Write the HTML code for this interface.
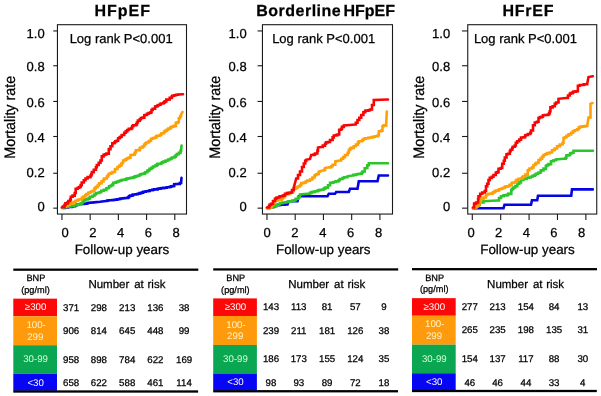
<!DOCTYPE html>
<html lang="en"><head><meta charset="utf-8"><title>Mortality rate by BNP level</title>
<style>html,body{margin:0;padding:0;background:#fff}body{width:601px;height:396px;overflow:hidden}svg{display:block;filter:blur(0.35px)}text{text-rendering:geometricPrecision;stroke:#000;stroke-width:0.25px;font-family:"Liberation Sans",Arial,Helvetica,sans-serif;fill:#000}</style>
</head><body>
<svg width="601" height="396" viewBox="0 0 601 396">
<rect width="601" height="396" fill="#fff"/>
<g>
<text x="94.6" y="16.1" font-size="16" font-weight="bold" letter-spacing="0.95">HFpEF</text>
<polyline points="62.0,208.0 63.8,208.0 63.8,207.9 65.1,207.9 65.1,207.4 68.0,207.4 68.0,207.0 69.0,207.0 69.0,206.9 71.7,206.9 71.7,206.8 72.6,206.8 72.6,206.3 75.0,206.3 75.0,205.5 76.3,205.5 76.3,204.8 77.9,204.8 77.9,204.3 81.0,204.3 81.0,204.0 83.6,204.0 83.6,203.9 84.1,203.9 84.1,203.8 86.4,203.8 86.4,203.5 87.5,203.5 87.5,203.0 94.0,202.4 100.0,201.8 106.0,201.0 107.0,201.0 107.0,200.5 108.9,200.5 108.9,200.3 111.1,200.3 111.1,200.2 112.5,200.2 112.5,200.0 114.5,200.0 114.5,199.8 116.0,199.8 116.0,199.6 117.2,199.6 117.2,199.3 119.0,199.3 119.0,199.0 120.4,199.0 120.4,198.5 122.8,198.5 122.8,198.2 125.0,198.2 125.0,198.0 128.1,198.0 128.1,197.3 129.0,197.3 129.0,196.2 130.1,196.2 130.1,195.6 132.3,195.6 132.3,195.1 133.1,195.1 133.1,194.5 135.8,194.5 135.8,194.2 137.7,194.2 137.7,193.7 139.5,193.7 139.5,193.1 141.2,193.1 141.2,192.8 142.6,192.8 142.6,192.4 143.3,192.4 143.3,191.8 145.7,191.8 145.7,191.2 148.0,191.2 148.0,191.0 149.7,191.0 149.7,190.3 152.3,190.3 152.3,189.9 153.0,189.9 153.0,189.7 154.0,189.7 154.0,189.4 157.6,189.4 157.6,188.7 158.9,188.7 158.9,188.6 160.6,188.6 160.6,188.2 161.8,188.2 161.8,188.1 163.5,188.1 163.5,187.9 165.0,187.9 165.0,187.7 166.7,187.7 166.7,187.3 169.4,187.3 169.4,187.0 170.3,187.0 170.3,186.7 171.2,186.7 171.2,186.2 173.1,186.2 173.1,186.0 174.2,186.0 174.2,184.2 178.8,183.9 179.8,183.9 179.8,183.0 181.1,183.0 181.1,182.4 181.5,177.9" fill="none" stroke="#0404e4" stroke-width="2.6" stroke-linejoin="miter" stroke-linecap="round"/>
<polyline points="62.0,207.8 67.0,207.0 72.5,206.2 74.1,206.2 74.1,205.2 76.0,205.2 76.0,205.0 78.1,205.0 78.1,204.3 80.0,204.3 80.0,203.8 81.2,203.8 81.2,203.3 82.5,203.3 82.5,201.5 83.9,201.5 83.9,200.3 85.3,200.3 85.3,199.4 87.7,199.4 87.7,198.8 88.9,198.8 88.9,198.4 89.8,198.4 89.8,197.3 90.3,197.3 90.3,196.7 92.6,196.7 92.6,195.7 94.4,195.7 94.4,194.5 95.7,194.5 95.7,193.5 96.5,193.5 96.5,193.0 98.9,193.0 98.9,192.5 100.1,192.5 100.1,192.0 101.3,192.0 101.3,190.8 103.5,190.8 103.5,190.5 104.0,190.5 104.0,189.9 106.4,189.9 106.4,188.2 108.0,188.2 108.0,188.0 109.1,188.0 109.1,186.2 110.8,186.2 110.8,185.5 112.4,185.5 112.4,184.5 113.3,184.5 113.3,182.8 115.7,182.8 115.7,182.1 117.5,182.1 117.5,181.5 118.8,181.5 118.8,181.0 120.3,181.0 120.3,180.5 121.7,180.5 121.7,180.0 122.8,180.0 122.8,179.8 124.7,179.8 124.7,179.6 126.2,179.6 126.2,178.8 127.0,178.8 127.0,178.6 128.5,178.6 128.5,178.3 130.5,178.3 130.5,177.9 133.1,177.9 133.1,177.4 134.3,177.4 134.3,176.9 135.3,176.9 135.3,176.4 136.6,176.4 136.6,176.0 138.2,176.0 138.2,175.5 139.8,175.5 139.8,174.8 140.4,174.8 140.4,174.3 142.1,174.3 142.1,173.7 144.4,173.7 144.4,173.4 145.2,173.4 145.2,172.3 147.3,172.3 147.3,170.9 148.5,170.9 148.5,170.3 149.5,170.3 149.5,168.9 151.4,168.9 151.4,167.8 153.0,167.8 153.0,166.5 155.1,166.5 155.1,165.6 156.9,165.6 156.9,164.6 157.6,164.6 157.6,163.9 159.1,163.9 159.1,163.8 161.2,163.8 161.2,163.0 162.1,163.0 162.1,162.4 163.4,162.4 163.4,161.6 165.5,161.6 165.5,160.7 166.7,160.7 166.7,160.5 168.2,160.5 168.2,159.5 169.8,159.5 169.8,159.0 171.2,159.0 171.2,158.2 172.0,158.2 172.0,157.5 174.5,157.5 174.5,156.6 175.8,156.6 175.8,155.2 176.9,155.2 176.9,154.1 178.8,154.1 178.8,152.9 180.5,152.9 180.5,150.8 181.1,150.8 181.1,149.8 181.6,145.5" fill="none" stroke="#2cc62c" stroke-width="2.6" stroke-linejoin="miter" stroke-linecap="round"/>
<polyline points="62.0,207.5 62.7,207.5 62.7,206.9 66.0,206.9 66.0,205.5 68.2,205.5 68.2,204.8 70.0,204.8 70.0,203.8 71.5,203.8 71.5,203.4 73.5,203.4 73.5,202.0 75.4,202.0 75.4,200.8 77.5,200.8 77.5,200.0 78.6,200.0 78.6,199.5 80.0,199.5 80.0,199.2 81.9,199.2 81.9,197.6 83.6,197.6 83.6,196.5 85.3,196.5 85.3,195.3 86.4,195.3 86.4,194.1 88.3,194.1 88.3,192.7 89.8,192.7 89.8,192.3 91.0,192.3 91.0,191.5 92.8,191.5 92.8,190.7 94.4,190.7 94.4,188.5 95.7,188.5 95.7,187.1 97.6,187.1 97.6,185.5 98.9,185.5 98.9,183.6 99.7,183.6 99.7,183.2 101.6,183.2 101.6,181.4 103.5,181.4 103.5,179.5 104.4,179.5 104.4,178.5 106.8,178.5 106.8,176.6 108.0,176.6 108.0,175.0 108.9,175.0 108.9,173.8 110.6,173.8 110.6,173.1 112.4,173.1 112.4,172.0 114.9,172.0 114.9,169.4 115.5,169.4 115.5,169.0 117.5,169.0 117.5,167.0 119.4,167.0 119.4,165.6 121.1,165.6 121.1,164.4 121.7,164.4 121.7,163.0 123.1,163.0 123.1,160.5 125.1,160.5 125.1,159.6 126.2,159.6 126.2,159.0 127.2,159.0 127.2,158.2 128.9,158.2 128.9,157.6 130.5,157.6 130.5,155.0 132.4,155.0 132.4,154.7 134.6,154.7 134.6,153.1 135.3,153.1 135.3,152.0 135.9,152.0 135.9,150.3 138.1,150.3 138.1,150.1 139.8,150.1 139.8,148.3 140.4,148.3 140.4,147.5 142.7,147.5 142.7,146.4 144.2,146.4 144.2,144.5 145.5,144.5 145.5,143.2 146.5,143.2 146.5,142.5 148.5,142.5 148.5,141.5 149.5,141.5 149.5,140.7 151.0,140.7 151.0,138.8 153.0,138.8 153.0,138.0 155.0,138.0 155.0,137.6 156.1,137.6 156.1,136.1 157.6,136.1 157.6,135.8 159.6,135.8 159.6,135.0 161.2,135.0 161.2,133.5 162.1,133.5 162.1,133.2 164.1,133.2 164.1,131.6 165.3,131.6 165.3,130.7 166.7,130.7 166.7,129.7 168.2,129.7 168.2,128.6 170.3,128.6 170.3,127.6 171.2,127.6 171.2,126.7 173.2,126.7 173.2,126.1 174.9,126.1 174.9,125.6 175.8,125.6 175.8,122.9 177.5,122.9 177.5,122.3 178.8,122.3 178.8,118.3 180.1,118.3 180.1,116.3 181.1,116.3 181.1,114.5 182.5,112.0" fill="none" stroke="#ffa008" stroke-width="2.6" stroke-linejoin="miter" stroke-linecap="round"/>
<polyline points="62.0,207.3 63.1,207.3 63.1,206.6 64.5,206.6 64.5,205.0 65.4,205.0 65.4,203.4 67.5,203.4 67.5,202.5 68.3,202.5 68.3,201.0 70.2,201.0 70.2,199.4 70.8,199.4 70.8,196.8 72.6,196.8 72.6,195.6 74.7,195.6 74.7,193.0 75.7,193.0 75.7,188.7 77.8,188.7 77.8,187.7 79.2,187.7 79.2,187.0 80.6,187.0 80.6,185.1 81.7,185.1 81.7,182.5 83.8,182.5 83.8,180.2 85.5,180.2 85.5,178.5 87.6,178.5 87.6,177.1 90.5,177.1 90.5,175.5 91.4,175.5 91.4,174.1 91.9,174.1 91.9,172.1 93.8,172.1 93.8,169.8 95.9,169.8 95.9,167.3 96.8,167.3 96.8,165.0 98.7,165.0 98.7,162.8 100.5,162.8 100.5,160.5 101.8,160.5 101.8,156.4 103.6,156.4 103.6,154.9 105.0,154.9 105.0,154.4 106.4,154.4 106.4,153.6 108.8,153.6 108.8,149.1 110.5,149.1 110.5,146.3 112.3,146.3 112.3,143.2 114.6,143.2 114.6,142.2 115.3,142.2 115.3,141.2 116.6,141.2 116.6,140.8 118.1,140.8 118.1,138.3 119.7,138.3 119.7,137.3 120.5,137.3 120.5,136.7 121.7,136.7 121.7,135.0 124.2,135.0 124.2,132.7 125.8,132.7 125.8,131.4 127.2,131.4 127.2,130.0 128.8,130.0 128.8,128.9 131.4,128.9 131.4,128.1 132.2,128.1 132.2,126.1 133.3,126.1 133.3,125.2 136.1,125.2 136.1,124.4 136.9,124.4 136.9,122.5 137.9,122.5 137.9,120.6 139.8,120.6 139.8,119.3 140.9,119.3 140.9,118.0 142.4,118.0 142.4,117.6 144.3,117.6 144.3,115.2 145.0,115.2 145.0,115.0 147.0,115.0 147.0,113.8 148.6,113.8 148.6,113.0 150.5,113.0 150.5,112.4 151.5,112.4 151.5,110.0 152.7,110.0 152.7,108.8 155.1,108.8 155.1,106.6 156.1,106.6 156.1,106.2 157.7,106.2 157.7,105.2 158.9,105.2 158.9,104.8 160.6,104.8 160.6,103.5 163.4,103.5 163.4,102.7 164.3,102.7 164.3,101.9 165.2,101.9 165.2,101.4 166.3,101.4 166.3,99.6 168.0,99.6 168.0,99.5 169.7,99.5 169.7,97.9 171.6,97.9 171.6,96.9 172.2,96.9 172.2,95.7 174.2,95.7 174.2,95.3 176.1,95.3 176.1,94.7 178.0,94.7 178.0,94.4 183.0,94.3" fill="none" stroke="#f80404" stroke-width="2.6" stroke-linejoin="miter" stroke-linecap="round"/>
<rect x="57.45" y="24.7" width="129.05" height="189.35" fill="none" stroke="#1a1a1a" stroke-width="1.1"/>
<line x1="53.25" y1="208.15" x2="57.45" y2="208.15" stroke="#1a1a1a" stroke-width="1.1"/>
<text x="44.70" y="211.00" font-size="13" text-anchor="end">0</text>
<line x1="53.25" y1="173.26" x2="57.45" y2="173.26" stroke="#1a1a1a" stroke-width="1.1"/>
<text x="44.70" y="176.70" font-size="13" text-anchor="end">0.2</text>
<line x1="53.25" y1="136.50" x2="57.45" y2="136.50" stroke="#1a1a1a" stroke-width="1.1"/>
<text x="44.70" y="141.90" font-size="13" text-anchor="end">0.4</text>
<line x1="53.25" y1="101.44" x2="57.45" y2="101.44" stroke="#1a1a1a" stroke-width="1.1"/>
<text x="44.70" y="107.00" font-size="13" text-anchor="end">0.6</text>
<line x1="53.25" y1="65.76" x2="57.45" y2="65.76" stroke="#1a1a1a" stroke-width="1.1"/>
<text x="44.70" y="71.40" font-size="13" text-anchor="end">0.8</text>
<line x1="53.25" y1="30.95" x2="57.45" y2="30.95" stroke="#1a1a1a" stroke-width="1.1"/>
<text x="44.70" y="37.50" font-size="13" text-anchor="end">1.0</text>
<line x1="61.95" y1="214.05" x2="61.95" y2="219.95000000000002" stroke="#1a1a1a" stroke-width="1.1"/>
<text x="65.00" y="237.2" font-size="13" text-anchor="middle">0</text>
<line x1="90.16" y1="214.05" x2="90.16" y2="219.95000000000002" stroke="#1a1a1a" stroke-width="1.1"/>
<text x="92.80" y="237.2" font-size="13" text-anchor="middle">2</text>
<line x1="118.37" y1="214.05" x2="118.37" y2="219.95000000000002" stroke="#1a1a1a" stroke-width="1.1"/>
<text x="120.60" y="237.2" font-size="13" text-anchor="middle">4</text>
<line x1="146.58" y1="214.05" x2="146.58" y2="219.95000000000002" stroke="#1a1a1a" stroke-width="1.1"/>
<text x="148.40" y="237.2" font-size="13" text-anchor="middle">6</text>
<line x1="174.79" y1="214.05" x2="174.79" y2="219.95000000000002" stroke="#1a1a1a" stroke-width="1.1"/>
<text x="176.20" y="237.2" font-size="13" text-anchor="middle">8</text>
<text x="121.90" y="253.7" font-size="13.4" text-anchor="middle">Follow-up years</text>
<text x="69.65" y="42.8" font-size="13">Log rank P&lt;0.001</text>
<text transform="translate(14.90,117.2) rotate(-90) scale(0.945,1)" font-size="15.2" text-anchor="middle">Mortality rate</text>
</g>
<g>
<text y="16.1" font-size="16" font-weight="bold"><tspan x="256.2" letter-spacing="0.5">Borderline </tspan><tspan x="343.5">HFpEF</tspan></text>
<polyline points="267.0,208.0 269.3,208.0 269.3,207.8 271.9,207.8 271.9,206.9 273.9,206.9 273.9,206.5 275.0,206.5 275.0,205.5 276.2,205.5 276.2,205.3 277.4,205.3 277.4,205.2 279.2,205.2 279.2,205.0 280.3,205.0 280.3,204.8 281.7,204.8 281.7,204.7 284.7,204.7 284.7,204.5 287.5,204.5 287.5,204.5 288.8,201.2 297.5,201.2 298.8,196.2 327.5,196.2 328.8,193.8 335.0,193.8 336.2,192.0 348.8,192.0 350.0,188.8 357.5,188.8 358.8,181.2 377.5,181.2 378.8,175.5 388.0,175.5" fill="none" stroke="#0404e4" stroke-width="2.6" stroke-linejoin="miter" stroke-linecap="round"/>
<polyline points="267.0,208.0 269.2,208.0 269.2,207.6 270.8,207.6 270.8,207.5 273.0,207.5 273.0,206.4 275.0,206.4 275.0,206.2 276.9,206.2 276.9,204.6 278.4,204.6 278.4,204.2 279.9,204.2 279.9,203.1 282.5,203.1 282.5,202.5 285.2,202.5 285.2,202.3 287.3,202.3 287.3,201.8 288.7,201.8 288.7,201.4 290.0,201.4 290.0,201.2 292.1,201.2 292.1,200.6 294.4,200.6 294.4,200.2 295.6,200.2 295.6,199.1 296.2,199.1 296.2,198.8 298.1,198.8 298.1,197.1 300.0,197.1 300.0,194.5 307.5,193.8 309.9,193.8 309.9,192.9 311.5,192.9 311.5,192.1 313.1,192.1 313.1,191.9 315.0,191.9 315.0,191.2 317.9,191.2 317.9,190.4 318.7,190.4 318.7,190.1 320.4,190.1 320.4,189.8 322.5,189.8 322.5,189.5 323.8,189.5 323.8,188.6 325.1,188.6 325.1,187.6 327.5,187.6 327.5,187.5 328.0,187.5 328.0,185.3 330.1,185.3 330.1,182.7 332.5,182.7 332.5,182.5 333.6,182.5 333.6,182.0 335.6,182.0 335.6,181.4 337.5,181.4 337.5,181.2 338.6,181.2 338.6,180.3 339.9,180.3 339.9,179.0 342.5,179.0 342.5,178.0 344.2,178.0 344.2,177.3 346.2,177.3 346.2,177.2 347.5,177.2 347.5,176.3 352.5,175.5 353.4,175.5 353.4,174.9 355.7,174.9 355.7,174.5 357.5,174.5 357.5,174.0 359.5,174.0 359.5,173.8 361.7,173.8 361.7,172.7 362.5,172.7 362.5,171.5 364.7,171.5 364.7,168.3 366.2,168.3 366.2,168.0 367.3,168.0 367.3,165.2 368.8,165.2 368.8,163.2 388.0,163.2" fill="none" stroke="#2cc62c" stroke-width="2.6" stroke-linejoin="miter" stroke-linecap="round"/>
<polyline points="267.0,208.0 269.7,208.0 269.7,207.4 271.4,207.4 271.4,205.3 272.5,205.3 272.5,203.8 274.3,203.8 274.3,201.9 275.1,201.9 275.1,200.8 277.5,200.8 277.5,200.0 279.3,200.0 279.3,199.8 281.6,199.8 281.6,198.7 282.5,198.7 282.5,197.5 284.4,197.5 284.4,195.7 285.3,195.7 285.3,194.4 287.5,194.4 287.5,193.7 289.7,193.8 289.7,193.2 290.6,193.2 290.6,192.7 292.5,192.7 292.5,191.2 293.6,191.2 293.6,188.6 296.2,188.6 296.2,187.5 297.8,187.5 297.8,186.5 300.0,186.5 300.0,185.0 301.3,185.0 301.3,183.1 303.5,183.1 303.5,182.7 305.0,182.7 305.0,182.5 305.7,182.5 305.7,181.5 307.2,181.5 307.2,180.6 310.0,180.6 310.0,179.5 311.7,179.5 311.7,179.1 312.5,179.1 312.5,177.5 314.5,177.5 314.5,175.9 315.0,175.9 315.0,175.0 316.3,175.0 316.3,174.2 317.5,174.2 317.5,174.0 318.7,174.0 318.7,171.7 320.0,171.7 320.0,171.2 322.5,170.5 324.3,170.5 324.3,169.7 325.0,169.7 325.0,168.0 327.5,167.5 329.8,167.5 329.8,167.3 331.2,167.3 331.2,166.2 332.6,166.2 332.6,164.8 335.3,164.8 335.3,161.5 336.2,161.5 336.2,161.2 340.0,160.5 341.2,160.5 341.2,158.8 343.1,158.8 343.1,157.1 345.0,157.1 345.0,155.0 347.6,155.0 347.6,152.7 348.8,152.7 348.8,150.0 350.0,150.0 350.0,148.6 351.1,148.6 351.1,147.9 353.7,147.9 353.7,146.2 355.9,146.2 355.9,144.6 357.9,144.6 357.9,142.6 358.8,142.6 358.8,141.2 361.9,141.2 361.9,140.7 362.5,140.7 362.5,139.7 363.8,139.7 363.8,138.8 365.3,138.8 365.3,138.3 366.5,138.3 366.5,138.2 368.2,138.2 368.2,137.8 370.0,137.8 370.0,137.5 371.8,137.5 371.8,137.1 373.6,137.1 373.6,136.7 375.0,136.7 375.0,136.2 377.9,136.2 377.9,135.1 378.8,135.1 378.8,131.2 381.1,131.2 381.1,130.6 382.5,130.6 382.5,126.2 383.7,126.2 383.7,125.4 386.2,125.4 386.2,124.5 386.5,118.0 386.8,111.5" fill="none" stroke="#ffa008" stroke-width="2.6" stroke-linejoin="miter" stroke-linecap="round"/>
<polyline points="267.0,207.5 269.0,207.5 269.0,206.0 269.7,206.0 269.7,204.6 271.2,204.6 271.2,203.8 273.0,203.8 273.0,201.0 275.0,201.0 275.0,198.8 276.2,198.8 276.2,197.7 277.5,197.7 277.5,197.5 279.2,197.5 279.2,196.8 280.0,196.8 280.0,196.2 282.6,196.2 282.6,195.7 283.7,195.7 283.7,195.4 285.0,195.4 285.0,193.8 287.0,193.8 287.0,193.1 288.4,193.1 288.4,192.7 290.0,192.7 290.0,192.5 292.0,192.5 292.0,190.0 293.8,190.0 293.8,187.5 295.0,183.0 296.2,178.5 298.0,178.5 298.0,175.0 300.0,175.0 300.0,171.5 302.0,171.5 302.0,167.0 303.8,167.0 303.8,163.5 305.2,163.5 305.2,160.9 306.2,160.9 306.2,159.8 310.0,159.0 311.2,155.0 313.6,155.0 313.6,154.6 315.0,154.6 315.0,153.5 317.4,153.5 317.4,150.6 318.0,150.6 318.0,147.5 321.2,147.0 322.8,147.0 322.8,145.6 325.0,145.6 325.0,143.8 326.1,143.8 326.1,142.4 328.0,142.4 328.0,142.0 330.0,142.0 330.0,140.0 332.6,140.0 332.6,137.4 333.8,137.4 333.8,135.5 335.9,135.5 335.9,135.1 337.5,135.1 337.5,134.5 339.2,134.5 339.2,129.8 341.2,129.8 341.2,128.8 342.0,128.8 342.0,126.9 343.8,126.9 343.8,125.5 350.0,125.0 355.0,124.5 355.8,124.5 355.8,122.8 357.5,122.8 357.5,120.0 359.3,120.0 359.3,117.7 361.2,117.7 361.2,115.0 363.4,115.0 363.4,112.2 365.0,112.2 365.0,111.2 365.6,111.2 365.6,110.6 368.4,110.6 368.4,110.2 370.0,110.2 370.0,109.5 372.0,109.5 372.0,105.0 373.8,105.0 373.8,100.0 388.0,99.5" fill="none" stroke="#f80404" stroke-width="2.6" stroke-linejoin="miter" stroke-linecap="round"/>
<rect x="262.45" y="24.7" width="130.05" height="189.35" fill="none" stroke="#1a1a1a" stroke-width="1.1"/>
<line x1="257.55" y1="208.15" x2="262.45" y2="208.15" stroke="#1a1a1a" stroke-width="1.1"/>
<text x="246.70" y="211.00" font-size="13" text-anchor="end">0</text>
<line x1="257.55" y1="173.26" x2="262.45" y2="173.26" stroke="#1a1a1a" stroke-width="1.1"/>
<text x="246.70" y="176.70" font-size="13" text-anchor="end">0.2</text>
<line x1="257.55" y1="136.50" x2="262.45" y2="136.50" stroke="#1a1a1a" stroke-width="1.1"/>
<text x="246.70" y="141.90" font-size="13" text-anchor="end">0.4</text>
<line x1="257.55" y1="101.44" x2="262.45" y2="101.44" stroke="#1a1a1a" stroke-width="1.1"/>
<text x="246.70" y="107.00" font-size="13" text-anchor="end">0.6</text>
<line x1="257.55" y1="65.76" x2="262.45" y2="65.76" stroke="#1a1a1a" stroke-width="1.1"/>
<text x="246.70" y="71.40" font-size="13" text-anchor="end">0.8</text>
<line x1="257.55" y1="30.95" x2="262.45" y2="30.95" stroke="#1a1a1a" stroke-width="1.1"/>
<text x="246.70" y="37.50" font-size="13" text-anchor="end">1.0</text>
<line x1="266.95" y1="214.05" x2="266.95" y2="219.95000000000002" stroke="#1a1a1a" stroke-width="1.1"/>
<text x="267.00" y="237.2" font-size="13" text-anchor="middle">0</text>
<line x1="295.19" y1="214.05" x2="295.19" y2="219.95000000000002" stroke="#1a1a1a" stroke-width="1.1"/>
<text x="294.90" y="237.2" font-size="13" text-anchor="middle">2</text>
<line x1="323.43" y1="214.05" x2="323.43" y2="219.95000000000002" stroke="#1a1a1a" stroke-width="1.1"/>
<text x="322.80" y="237.2" font-size="13" text-anchor="middle">4</text>
<line x1="351.67" y1="214.05" x2="351.67" y2="219.95000000000002" stroke="#1a1a1a" stroke-width="1.1"/>
<text x="350.70" y="237.2" font-size="13" text-anchor="middle">6</text>
<line x1="379.91" y1="214.05" x2="379.91" y2="219.95000000000002" stroke="#1a1a1a" stroke-width="1.1"/>
<text x="378.60" y="237.2" font-size="13" text-anchor="middle">8</text>
<text x="323.25" y="253.7" font-size="13.4" text-anchor="middle">Follow-up years</text>
<text x="272.15" y="42.8" font-size="13">Log rank P&lt;0.001</text>
<text transform="translate(220.00,117.2) rotate(-90) scale(0.945,1)" font-size="15.2" text-anchor="middle">Mortality rate</text>
</g>
<g>
<text x="502.4" y="16.1" font-size="16" font-weight="bold" letter-spacing="0.8">HFrEF</text>
<polyline points="473.0,208.2 503.5,208.2 504.5,204.8 531.0,204.8 532.0,200.3 537.2,200.3 538.0,195.8 571.2,195.8 572.0,189.4 592.8,189.4" fill="none" stroke="#0404e4" stroke-width="2.6" stroke-linejoin="miter" stroke-linecap="round"/>
<polyline points="473.0,208.0 475.1,208.0 475.1,206.8 477.8,206.8 477.8,206.0 478.5,206.0 478.5,205.0 479.6,205.0 479.6,202.8 481.2,202.8 481.2,202.5 483.5,202.5 483.5,201.2 497.2,200.5 499.0,200.5 499.0,198.0 501.0,198.0 501.0,196.2 503.6,196.2 503.6,195.4 506.3,195.4 506.3,195.1 507.9,195.1 507.9,194.3 508.5,194.3 508.5,193.7 511.3,193.8 511.3,190.0 512.2,190.0 512.2,188.8 513.4,188.8 513.4,187.5 515.3,187.5 515.3,186.1 517.3,186.1 517.3,183.8 519.3,183.8 519.3,182.4 521.0,182.4 521.0,180.0 523.3,180.0 523.3,179.0 526.0,179.0 526.0,178.9 526.6,178.9 526.6,177.7 528.5,177.7 528.5,177.5 530.6,177.5 530.6,176.7 532.5,176.7 532.5,175.7 534.7,175.7 534.7,174.9 536.0,174.9 536.0,173.8 538.1,173.8 538.1,172.7 540.1,172.7 540.1,172.1 540.9,172.1 540.9,170.4 543.5,170.4 543.5,168.7 545.9,168.8 545.9,165.9 547.2,165.9 547.2,165.0 548.6,165.0 548.6,164.1 551.0,164.1 551.0,161.2 553.0,161.2 553.0,161.1 553.7,161.1 553.7,160.3 556.0,160.3 556.0,159.5 563.5,158.8 565.6,158.8 565.6,157.8 566.4,157.8 566.4,155.4 568.5,155.4 568.5,155.0 570.2,155.0 570.2,153.3 572.0,153.3 572.0,152.8 573.5,152.8 573.5,150.8 593.0,150.8" fill="none" stroke="#2cc62c" stroke-width="2.6" stroke-linejoin="miter" stroke-linecap="round"/>
<polyline points="473.0,208.0 474.3,208.0 474.3,207.5 476.4,207.5 476.4,205.8 478.5,205.8 478.5,203.8 479.3,203.8 479.3,202.9 480.8,202.9 480.8,198.9 483.5,198.9 483.5,197.5 485.9,197.5 485.9,195.2 486.8,195.2 486.8,194.5 488.5,194.5 488.5,193.8 490.9,193.8 490.9,193.6 492.6,193.6 492.6,192.7 493.4,192.7 493.4,192.1 494.8,192.1 494.8,191.2 495.7,191.2 495.7,190.6 498.3,190.6 498.3,190.2 499.1,190.2 499.1,189.3 501.0,189.3 501.0,188.8 502.5,188.8 502.5,188.0 504.5,188.0 504.5,187.5 505.0,187.5 505.0,186.6 507.2,186.6 507.2,186.2 509.4,186.2 509.4,185.1 510.8,185.1 510.8,184.6 511.8,184.6 511.8,182.7 513.5,182.7 513.5,182.5 515.7,182.5 515.7,180.9 516.7,180.9 516.7,179.9 518.5,179.9 518.5,178.8 521.2,178.8 521.2,178.4 522.2,178.4 522.2,177.1 523.5,177.1 523.5,176.2 525.2,176.2 525.2,174.6 527.7,174.6 527.7,170.5 528.5,170.5 528.5,170.0 529.5,170.0 529.5,168.5 532.1,168.5 532.1,167.4 533.5,167.4 533.5,165.0 535.4,165.0 535.4,163.5 536.5,163.5 536.5,162.9 538.5,162.9 538.5,160.0 540.5,160.0 540.5,158.6 542.1,158.6 542.1,156.7 543.5,156.7 543.5,155.0 545.3,155.0 545.3,154.3 546.6,154.3 546.6,153.8 547.3,153.8 547.3,153.1 549.8,153.1 549.8,152.5 552.0,152.5 552.0,150.2 553.8,150.2 553.8,149.9 554.8,149.9 554.8,148.5 557.1,148.5 557.1,146.3 558.7,146.3 558.7,146.1 559.8,146.1 559.8,144.5 562.6,144.5 562.6,142.7 563.5,142.7 563.5,138.0 564.9,138.0 564.9,137.2 566.5,137.2 566.5,135.8 568.5,135.8 568.5,134.5 569.0,134.5 569.0,134.4 571.1,134.4 571.1,132.7 573.0,132.7 573.0,131.2 574.7,131.2 574.7,130.2 577.1,130.2 577.1,129.3 578.7,129.3 578.7,127.6 579.8,127.6 579.8,127.0 580.9,127.0 580.9,126.6 583.0,126.6 583.0,126.4 585.0,126.4 585.0,126.0 587.2,126.0 587.2,125.8 588.5,117.5 590.5,117.5 590.5,103.8 592.5,103.0" fill="none" stroke="#ffa008" stroke-width="2.6" stroke-linejoin="miter" stroke-linecap="round"/>
<polyline points="473.0,207.5 474.1,207.5 474.1,203.6 476.0,203.6 476.0,202.5 478.1,202.5 478.1,199.3 478.5,199.3 478.5,196.2 480.2,196.2 480.2,193.7 482.2,193.7 482.2,192.5 484.8,192.5 484.8,191.0 486.0,191.0 486.0,186.2 487.2,186.2 487.2,183.7 488.5,183.7 488.5,180.0 489.8,180.0 489.8,177.9 491.8,177.9 491.8,176.8 493.5,176.8 493.5,175.0 495.8,175.0 495.8,172.6 497.3,172.6 497.3,172.1 498.5,172.1 498.5,168.8 500.7,168.8 500.7,168.0 502.2,168.0 502.2,163.8 503.8,163.8 503.8,160.8 504.8,160.8 504.8,157.5 506.5,157.5 506.5,154.3 508.0,154.3 508.0,153.8 509.8,153.8 509.8,151.2 510.6,151.2 510.6,149.7 512.2,149.7 512.2,148.0 512.8,148.0 512.8,146.8 514.8,146.8 514.8,145.5 515.8,145.5 515.8,142.7 517.2,142.7 517.2,141.2 519.2,141.2 519.2,139.6 521.0,139.6 521.0,137.5 523.5,137.5 523.5,137.2 525.1,137.2 525.1,135.5 526.0,135.5 526.0,135.0 527.9,135.0 527.9,134.0 530.2,134.0 530.2,132.9 531.0,132.9 531.0,130.5 533.0,130.5 533.0,125.3 534.8,125.3 534.8,122.5 536.9,122.5 536.9,121.8 538.5,121.8 538.5,118.0 539.8,118.0 539.8,117.1 541.8,117.1 541.8,116.7 542.9,116.7 542.9,115.2 544.8,115.2 544.8,115.0 547.9,115.0 547.9,114.5 549.1,114.5 549.1,113.1 549.8,113.1 549.8,111.2 550.4,111.2 550.4,107.4 552.6,107.4 552.6,106.3 554.8,106.3 554.8,103.8 556.1,103.8 556.1,102.5 558.5,102.5 558.5,98.8 566.0,98.0 568.0,98.0 568.0,95.5 569.8,95.5 569.8,93.8 570.6,93.8 570.6,93.1 572.7,93.1 572.7,92.3 573.5,92.3 573.5,91.6 576.0,91.6 576.0,91.2 577.9,91.2 577.9,85.8 579.8,85.8 579.8,85.0 583.4,85.0 583.4,84.6 584.2,84.6 584.2,84.3 585.7,84.3 585.7,84.2 587.2,84.2 587.2,83.8 588.5,77.0 592.8,76.2" fill="none" stroke="#f80404" stroke-width="2.6" stroke-linejoin="miter" stroke-linecap="round"/>
<rect x="467.75" y="24.7" width="129.00" height="189.35" fill="none" stroke="#1a1a1a" stroke-width="1.1"/>
<line x1="462.05" y1="208.15" x2="467.75" y2="208.15" stroke="#1a1a1a" stroke-width="1.1"/>
<text x="450.20" y="211.00" font-size="13" text-anchor="end">0</text>
<line x1="462.05" y1="173.26" x2="467.75" y2="173.26" stroke="#1a1a1a" stroke-width="1.1"/>
<text x="450.20" y="176.70" font-size="13" text-anchor="end">0.2</text>
<line x1="462.05" y1="136.50" x2="467.75" y2="136.50" stroke="#1a1a1a" stroke-width="1.1"/>
<text x="450.20" y="141.90" font-size="13" text-anchor="end">0.4</text>
<line x1="462.05" y1="101.44" x2="467.75" y2="101.44" stroke="#1a1a1a" stroke-width="1.1"/>
<text x="450.20" y="107.00" font-size="13" text-anchor="end">0.6</text>
<line x1="462.05" y1="65.76" x2="467.75" y2="65.76" stroke="#1a1a1a" stroke-width="1.1"/>
<text x="450.20" y="71.40" font-size="13" text-anchor="end">0.8</text>
<line x1="462.05" y1="30.95" x2="467.75" y2="30.95" stroke="#1a1a1a" stroke-width="1.1"/>
<text x="450.20" y="37.50" font-size="13" text-anchor="end">1.0</text>
<line x1="472.30" y1="214.05" x2="472.30" y2="219.95000000000002" stroke="#1a1a1a" stroke-width="1.1"/>
<text x="471.00" y="237.2" font-size="13" text-anchor="middle">0</text>
<line x1="500.69" y1="214.05" x2="500.69" y2="219.95000000000002" stroke="#1a1a1a" stroke-width="1.1"/>
<text x="498.65" y="237.2" font-size="13" text-anchor="middle">2</text>
<line x1="529.08" y1="214.05" x2="529.08" y2="219.95000000000002" stroke="#1a1a1a" stroke-width="1.1"/>
<text x="526.30" y="237.2" font-size="13" text-anchor="middle">4</text>
<line x1="557.47" y1="214.05" x2="557.47" y2="219.95000000000002" stroke="#1a1a1a" stroke-width="1.1"/>
<text x="553.95" y="237.2" font-size="13" text-anchor="middle">6</text>
<line x1="585.86" y1="214.05" x2="585.86" y2="219.95000000000002" stroke="#1a1a1a" stroke-width="1.1"/>
<text x="581.60" y="237.2" font-size="13" text-anchor="middle">8</text>
<text x="527.50" y="253.7" font-size="13.4" text-anchor="middle">Follow-up years</text>
<text x="473.90" y="42.8" font-size="13">Log rank P&lt;0.001</text>
<text transform="translate(423.80,117.2) rotate(-90) scale(0.945,1)" font-size="15.2" text-anchor="middle">Mortality rate</text>
</g>
<g transform="translate(0,0.35)">
<rect x="13.3" y="268.2" width="185" height="2.25" fill="#000"/>
<text x="35.90" y="281.1" font-size="9.2" text-anchor="middle">BNP</text>
<text x="35.50" y="292.5" font-size="9.2" text-anchor="middle">(pg/ml)</text>
<text y="288" font-size="11.5"><tspan x="88.40">Number</tspan><tspan x="134.20">at</tspan><tspan x="147.50">risk</tspan></text>
<rect x="13.3" y="298.3" width="43.7" height="17.60" fill="#fc0808"/>
<text x="35.60" y="310.00" font-size="9.7" text-anchor="middle" style="fill:#fff;stroke:none">≥300</text>
<text x="71.10" y="310.30" font-size="9.7" text-anchor="middle">371</text>
<text x="98.90" y="310.30" font-size="9.7" text-anchor="middle">298</text>
<text x="127.20" y="310.30" font-size="9.7" text-anchor="middle">213</text>
<text x="155.40" y="310.30" font-size="9.7" text-anchor="middle">136</text>
<text x="184.10" y="310.30" font-size="9.7" text-anchor="middle">38</text>
<rect x="13.3" y="315.9" width="43.7" height="28.95" fill="#ff9a0c"/>
<text x="36.10" y="327.5" font-size="9.7" text-anchor="middle" style="fill:#fff4c8;stroke:none">100-</text>
<text x="35.30" y="339.3" font-size="9.7" text-anchor="middle" style="fill:#fff4c8;stroke:none">299</text>
<text x="71.10" y="333.60" font-size="9.7" text-anchor="middle">906</text>
<text x="98.90" y="333.60" font-size="9.7" text-anchor="middle">814</text>
<text x="127.20" y="333.60" font-size="9.7" text-anchor="middle">645</text>
<text x="155.40" y="333.60" font-size="9.7" text-anchor="middle">448</text>
<text x="184.10" y="333.60" font-size="9.7" text-anchor="middle">99</text>
<rect x="13.3" y="344.85" width="43.7" height="28.55" fill="#0aa652"/>
<text x="35.60" y="361.90" font-size="9.7" text-anchor="middle" style="fill:#d4ffd4;stroke:none">30-99</text>
<text x="71.10" y="362.20" font-size="9.7" text-anchor="middle">958</text>
<text x="98.90" y="362.20" font-size="9.7" text-anchor="middle">898</text>
<text x="127.20" y="362.20" font-size="9.7" text-anchor="middle">784</text>
<text x="155.40" y="362.20" font-size="9.7" text-anchor="middle">622</text>
<text x="184.10" y="362.20" font-size="9.7" text-anchor="middle">169</text>
<rect x="13.3" y="373.4" width="43.7" height="17.00" fill="#0606f4"/>
<text x="35.60" y="385.40" font-size="9.7" text-anchor="middle" style="fill:#fff;stroke:none">&lt;30</text>
<text x="71.10" y="385.70" font-size="9.7" text-anchor="middle">658</text>
<text x="98.90" y="385.70" font-size="9.7" text-anchor="middle">622</text>
<text x="127.20" y="385.70" font-size="9.7" text-anchor="middle">588</text>
<text x="155.40" y="385.70" font-size="9.7" text-anchor="middle">461</text>
<text x="184.10" y="385.70" font-size="9.7" text-anchor="middle">114</text>
<rect x="13.3" y="390.0" width="184.8" height="2.3" fill="#000"/>
</g>
<g transform="translate(0,0.1)">
<rect x="213.2" y="268.2" width="185" height="2.25" fill="#000"/>
<text x="235.80" y="281.1" font-size="9.2" text-anchor="middle">BNP</text>
<text x="235.40" y="292.5" font-size="9.2" text-anchor="middle">(pg/ml)</text>
<text y="288" font-size="11.5"><tspan x="288.30">Number</tspan><tspan x="334.10">at</tspan><tspan x="347.40">risk</tspan></text>
<rect x="213.2" y="298.3" width="43.7" height="17.60" fill="#fc0808"/>
<text x="235.50" y="310.00" font-size="9.7" text-anchor="middle" style="fill:#fff;stroke:none">≥300</text>
<text x="271.00" y="310.30" font-size="9.7" text-anchor="middle">143</text>
<text x="298.80" y="310.30" font-size="9.7" text-anchor="middle">113</text>
<text x="327.10" y="310.30" font-size="9.7" text-anchor="middle">81</text>
<text x="355.30" y="310.30" font-size="9.7" text-anchor="middle">57</text>
<text x="384.00" y="310.30" font-size="9.7" text-anchor="middle">9</text>
<rect x="213.2" y="315.9" width="43.7" height="28.95" fill="#ff9a0c"/>
<text x="236.00" y="327.5" font-size="9.7" text-anchor="middle" style="fill:#fff4c8;stroke:none">100-</text>
<text x="235.20" y="339.3" font-size="9.7" text-anchor="middle" style="fill:#fff4c8;stroke:none">299</text>
<text x="271.00" y="333.60" font-size="9.7" text-anchor="middle">239</text>
<text x="298.80" y="333.60" font-size="9.7" text-anchor="middle">211</text>
<text x="327.10" y="333.60" font-size="9.7" text-anchor="middle">181</text>
<text x="355.30" y="333.60" font-size="9.7" text-anchor="middle">126</text>
<text x="384.00" y="333.60" font-size="9.7" text-anchor="middle">38</text>
<rect x="213.2" y="344.85" width="43.7" height="28.55" fill="#0aa652"/>
<text x="235.50" y="361.90" font-size="9.7" text-anchor="middle" style="fill:#d4ffd4;stroke:none">30-99</text>
<text x="271.00" y="362.20" font-size="9.7" text-anchor="middle">186</text>
<text x="298.80" y="362.20" font-size="9.7" text-anchor="middle">173</text>
<text x="327.10" y="362.20" font-size="9.7" text-anchor="middle">155</text>
<text x="355.30" y="362.20" font-size="9.7" text-anchor="middle">124</text>
<text x="384.00" y="362.20" font-size="9.7" text-anchor="middle">35</text>
<rect x="213.2" y="373.4" width="43.7" height="17.00" fill="#0606f4"/>
<text x="235.50" y="385.40" font-size="9.7" text-anchor="middle" style="fill:#fff;stroke:none">&lt;30</text>
<text x="271.00" y="385.70" font-size="9.7" text-anchor="middle">98</text>
<text x="298.80" y="385.70" font-size="9.7" text-anchor="middle">93</text>
<text x="327.10" y="385.70" font-size="9.7" text-anchor="middle">89</text>
<text x="355.30" y="385.70" font-size="9.7" text-anchor="middle">72</text>
<text x="384.00" y="385.70" font-size="9.7" text-anchor="middle">18</text>
<rect x="213.2" y="390.0" width="184.8" height="2.3" fill="#000"/>
</g>
<g transform="translate(0,-0.15)">
<rect x="412.0" y="268.2" width="185" height="2.25" fill="#000"/>
<text x="434.60" y="281.1" font-size="9.2" text-anchor="middle">BNP</text>
<text x="434.20" y="292.5" font-size="9.2" text-anchor="middle">(pg/ml)</text>
<text y="288" font-size="11.5"><tspan x="487.10">Number</tspan><tspan x="532.90">at</tspan><tspan x="546.20">risk</tspan></text>
<rect x="412.0" y="298.3" width="43.7" height="17.60" fill="#fc0808"/>
<text x="434.30" y="310.00" font-size="9.7" text-anchor="middle" style="fill:#fff;stroke:none">≥300</text>
<text x="469.80" y="310.30" font-size="9.7" text-anchor="middle">277</text>
<text x="497.60" y="310.30" font-size="9.7" text-anchor="middle">213</text>
<text x="525.90" y="310.30" font-size="9.7" text-anchor="middle">154</text>
<text x="554.10" y="310.30" font-size="9.7" text-anchor="middle">84</text>
<text x="582.80" y="310.30" font-size="9.7" text-anchor="middle">13</text>
<rect x="412.0" y="315.9" width="43.7" height="28.95" fill="#ff9a0c"/>
<text x="434.80" y="327.5" font-size="9.7" text-anchor="middle" style="fill:#fff4c8;stroke:none">100-</text>
<text x="434.00" y="339.3" font-size="9.7" text-anchor="middle" style="fill:#fff4c8;stroke:none">299</text>
<text x="469.80" y="333.60" font-size="9.7" text-anchor="middle">265</text>
<text x="497.60" y="333.60" font-size="9.7" text-anchor="middle">235</text>
<text x="525.90" y="333.60" font-size="9.7" text-anchor="middle">198</text>
<text x="554.10" y="333.60" font-size="9.7" text-anchor="middle">135</text>
<text x="582.80" y="333.60" font-size="9.7" text-anchor="middle">31</text>
<rect x="412.0" y="344.85" width="43.7" height="28.55" fill="#0aa652"/>
<text x="434.30" y="361.90" font-size="9.7" text-anchor="middle" style="fill:#d4ffd4;stroke:none">30-99</text>
<text x="469.80" y="362.20" font-size="9.7" text-anchor="middle">154</text>
<text x="497.60" y="362.20" font-size="9.7" text-anchor="middle">137</text>
<text x="525.90" y="362.20" font-size="9.7" text-anchor="middle">117</text>
<text x="554.10" y="362.20" font-size="9.7" text-anchor="middle">88</text>
<text x="582.80" y="362.20" font-size="9.7" text-anchor="middle">30</text>
<rect x="412.0" y="373.4" width="43.7" height="17.00" fill="#0606f4"/>
<text x="434.30" y="385.40" font-size="9.7" text-anchor="middle" style="fill:#fff;stroke:none">&lt;30</text>
<text x="469.80" y="385.70" font-size="9.7" text-anchor="middle">46</text>
<text x="497.60" y="385.70" font-size="9.7" text-anchor="middle">46</text>
<text x="525.90" y="385.70" font-size="9.7" text-anchor="middle">44</text>
<text x="554.10" y="385.70" font-size="9.7" text-anchor="middle">33</text>
<text x="582.80" y="385.70" font-size="9.7" text-anchor="middle">4</text>
<rect x="412.0" y="390.0" width="184.8" height="2.3" fill="#000"/>
</g>
</svg>
</body></html>
